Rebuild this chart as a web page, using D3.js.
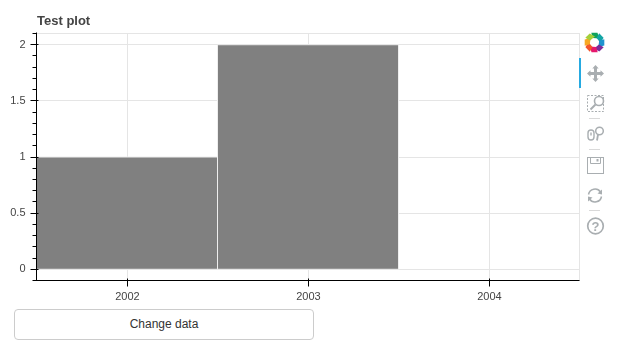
<!DOCTYPE html>
<html>
<head>
<meta charset="utf-8">
<script src="https://cdn.jsdelivr.net/npm/d3@7"></script>
<style>
  html, body { margin: 0; padding: 0; background: #fff; overflow: hidden; }
  svg { position: absolute; left: 0; top: 0; will-change: transform; }
  button {
    position: absolute; left: 14px; top: 309px; width: 300px; height: 31px;
    box-sizing: border-box; background: #fff; border: 1px solid #ccc; border-radius: 4px;
    font: 12px Helvetica, Arial, "Liberation Sans", sans-serif; color: #333; padding: 0 0 2px 0;
  }
</style>
</head>
<body>
<svg id="chart" width="628" height="351"></svg>
<button>Change data</button>
<script>
let years = ["2002", "2003", "2004"];
let counts = [1, 2];
let yTicks = [0, 0.5, 1, 1.5, 2];
let yMinorTicks = d3.range(-1, 22).map(d => d / 10);

let svg = d3.select("#chart");

let plotLeft = 36.5, plotRight = 579.5, plotTop = 33.5, plotBottom = 280.5;

let xScale = d3.scaleBand()
               .domain(years)
               .range([plotLeft, plotRight]);

let yScale = d3.scaleLinear()
               .domain([-0.1, 2.1])
               .range([plotBottom, plotTop]);

let snap = v => Math.floor(v) + 0.5;

// grid and outline first, bars go over them
svg.append("rect")
   .attr("x", plotLeft).attr("y", plotTop)
   .attr("width", plotRight - plotLeft).attr("height", plotBottom - plotTop)
   .attr("fill", "none").attr("stroke", "#e5e5e5");

svg.selectAll(".xgrid")
   .data(years)
   .enter()
   .append("line")
   .attr("x1", d => snap(xScale(d) + xScale.bandwidth() / 2))
   .attr("x2", d => snap(xScale(d) + xScale.bandwidth() / 2))
   .attr("y1", plotTop).attr("y2", plotBottom)
   .attr("stroke", "#e5e5e5");

svg.selectAll(".ygrid")
   .data(yTicks)
   .enter()
   .append("line")
   .attr("x1", plotLeft).attr("x2", plotRight)
   .attr("y1", d => snap(yScale(d)))
   .attr("y2", d => snap(yScale(d)))
   .attr("stroke", "#e5e5e5");

svg.selectAll(".bar")
   .data(counts)
   .enter()
   .append("rect")
   .attr("x", (d, i) => xScale(years[i]))
   .attr("y", d => yScale(d))
   .attr("width", xScale.bandwidth())
   .attr("height", d => yScale(0) - yScale(d))
   .attr("fill", "#808080")
   .attr("stroke", "#eeeeee")
   .attr("stroke-width", 1);

// y axis
let yAxis = svg.append("g");

yAxis.append("line")
     .attr("x1", plotLeft).attr("x2", plotLeft)
     .attr("y1", plotTop - 1).attr("y2", plotBottom + 0.5)
     .attr("stroke", "#000");

yAxis.selectAll(".minor")
     .data(yMinorTicks)
     .enter()
     .append("line")
     .attr("x1", plotLeft - 4).attr("x2", plotLeft)
     .attr("y1", d => snap(yScale(d)))
     .attr("y2", d => snap(yScale(d)))
     .attr("stroke", "#000");

yAxis.selectAll(".major")
     .data(yTicks)
     .enter()
     .append("line")
     .attr("x1", plotLeft - 6).attr("x2", plotLeft + 2)
     .attr("y1", d => snap(yScale(d)))
     .attr("y2", d => snap(yScale(d)))
     .attr("stroke", "#000");

yAxis.selectAll("text")
     .data(yTicks)
     .enter()
     .append("text")
     .attr("x", plotLeft - 11)
     .attr("y", d => yScale(d) + 3)
     .attr("text-anchor", "end")
     .attr("font-family", "Helvetica, Arial, 'Liberation Sans', sans-serif")
     .attr("font-size", 11)
     .attr("fill", "#444")
     .text(d => d);

// x axis
let xAxis = svg.append("g");

xAxis.append("line")
     .attr("x1", plotLeft).attr("x2", plotRight)
     .attr("y1", plotBottom).attr("y2", plotBottom)
     .attr("stroke", "#000");

xAxis.selectAll("line.tick")
     .data(years)
     .enter()
     .append("line")
     .attr("class", "tick")
     .attr("x1", d => snap(xScale(d) + xScale.bandwidth() / 2))
     .attr("x2", d => snap(xScale(d) + xScale.bandwidth() / 2))
     .attr("y1", plotBottom - 2).attr("y2", plotBottom + 6)
     .attr("stroke", "#000");

xAxis.selectAll("text")
     .data(years)
     .enter()
     .append("text")
     .attr("x", d => xScale(d) + xScale.bandwidth() / 2 + 0.5)
     .attr("y", 300)
     .attr("text-anchor", "middle")
     .attr("font-family", "Helvetica, Arial, 'Liberation Sans', sans-serif")
     .attr("font-size", 11)
     .attr("fill", "#444")
     .text(d => d);

svg.append("text")
   .attr("x", 37).attr("y", 25)
   .attr("font-family", "Helvetica, Arial, 'Liberation Sans', sans-serif")
   .attr("font-size", 13).attr("font-weight", "bold")
   .attr("fill", "#444")
   .text("Test plot");

// toolbar
let tb = svg.append("g");
let iconGrey = "#a9aeb1";

// logo: pinwheel of coloured blades
let logoColors = ["#0fa25c", "#12a5a5", "#1f93cf", "#7b2d9b", "#e6186d", "#f2552c", "#f7a823", "#a5cf3a"];
tb.append("g").attr("transform", "translate(594.5,42.5)")
  .selectAll("path")
  .data(logoColors)
  .enter()
  .append("path")
  .attr("d", "M-3.2,-9.8 L3,-9.8 L4.6,-4 L-1.7,-4.6 Z")
  .attr("transform", (d, i) => "rotate(" + i * 45 + ")")
  .attr("fill", d => d);

tb.append("rect")
  .attr("x", 579).attr("y", 58).attr("width", 2).attr("height", 30)
  .attr("fill", "#26aae1");

// pan
tb.append("path")
  .attr("transform", "translate(595.5,73.5)")
  .attr("d", "M0,-8.5 L3.2,-5 L1.5,-5 L1.5,-1.5 L5,-1.5 L5,-3.2 L8.5,0 L5,3.2 L5,1.5 L1.5,1.5 L1.5,5 L3.2,5 L0,8.5 L-3.2,5 L-1.5,5 L-1.5,1.5 L-5,1.5 L-5,3.2 L-8.5,0 L-5,-3.2 L-5,-1.5 L-1.5,-1.5 L-1.5,-5 L-3.2,-5 Z")
  .attr("fill", iconGrey);

// box zoom
let boxZoom = tb.append("g").attr("transform", "translate(587,95)");
boxZoom.append("rect")
  .attr("x", 0.5).attr("y", 0.5).attr("width", 16).attr("height", 16)
  .attr("fill", "none").attr("stroke", iconGrey).attr("stroke-dasharray", "2 1.5");
boxZoom.append("circle")
  .attr("cx", 12).attr("cy", 6).attr("r", 4.5)
  .attr("fill", "#fff").attr("stroke", iconGrey).attr("stroke-width", 1.6);
boxZoom.append("line")
  .attr("x1", 8.5).attr("y1", 9.5).attr("x2", 3.5).attr("y2", 14.5)
  .attr("stroke", iconGrey).attr("stroke-width", 2);

// wheel zoom
let wheel = tb.append("g").attr("transform", "translate(587,126)");
wheel.append("rect")
  .attr("x", 1).attr("y", 4).attr("width", 6).attr("height", 10).attr("rx", 3)
  .attr("fill", "none").attr("stroke", iconGrey).attr("stroke-width", 1.4);
wheel.append("line")
  .attr("x1", 4).attr("y1", 6.5).attr("x2", 4).attr("y2", 9.5)
  .attr("stroke", iconGrey).attr("stroke-width", 1.4);
wheel.append("circle")
  .attr("cx", 12.5).attr("cy", 5).attr("r", 3.8)
  .attr("fill", "#fff").attr("stroke", iconGrey).attr("stroke-width", 1.5);
wheel.append("line")
  .attr("x1", 11).attr("y1", 8.5).attr("x2", 10).attr("y2", 14.5)
  .attr("stroke", iconGrey).attr("stroke-width", 1.8);

// save
let save = tb.append("g").attr("transform", "translate(587,157)");
save.append("rect")
  .attr("x", 0.5).attr("y", 0.5).attr("width", 16).attr("height", 16)
  .attr("fill", "none").attr("stroke", iconGrey);
save.append("path")
  .attr("d", "M3.5,1 L3.5,6.5 L13.5,6.5 L13.5,1")
  .attr("fill", "none").attr("stroke", iconGrey);
save.append("rect")
  .attr("x", 9.5).attr("y", 2).attr("width", 2).attr("height", 2.5)
  .attr("fill", iconGrey);

// reset
let reset = tb.append("g").attr("transform", "translate(595,195.5)");
reset.append("path")
  .attr("d", "M-6.5,-1 A6.6,6.6 0 0 1 5.5,-3.5 M6.5,1 A6.6,6.6 0 0 1 -5.5,3.5")
  .attr("fill", "none").attr("stroke", iconGrey).attr("stroke-width", 1.5);
reset.append("path").attr("d", "M7,-6 L7,-1 L2.5,-2 Z").attr("fill", iconGrey);
reset.append("path").attr("d", "M-7,6 L-7,1 L-2.5,2 Z").attr("fill", iconGrey);

// help
let help = tb.append("g").attr("transform", "translate(595.5,226)");
help.append("circle")
  .attr("r", 7.8)
  .attr("fill", "none").attr("stroke", iconGrey).attr("stroke-width", 1.7);
help.append("text")
  .attr("y", 4.5)
  .attr("text-anchor", "middle")
  .attr("font-family", "Helvetica, Arial, 'Liberation Sans', sans-serif")
  .attr("font-size", 13).attr("font-weight", "bold")
  .attr("fill", iconGrey)
  .text("?");

// separators
let sepY = [118.5, 149.5, 210.5];
tb.selectAll(".sep")
  .data(sepY)
  .enter()
  .append("line")
  .attr("x1", 589).attr("x2", 600)
  .attr("y1", d => d).attr("y2", d => d)
  .attr("stroke", "#d9d9d9");
</script>
</body>
</html>
